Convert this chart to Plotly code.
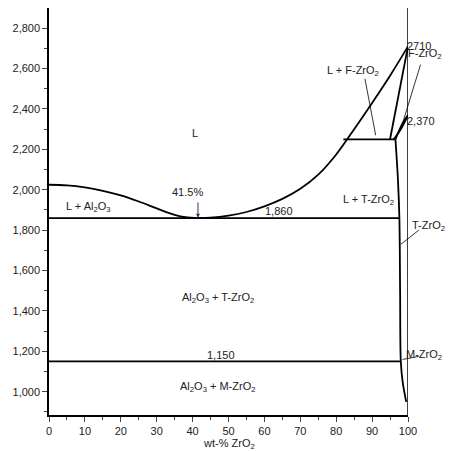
import plotly.graph_objects as go

x_ticks = list(range(0, 101, 10))
y_ticks = list(range(1000, 2801, 200))
y_labels = ["1,000","1,200","1,400","1,600","1,800","2,000","2,200","2,400","2,600","2,800"]

liq_al_x = [0, 5, 10, 15, 20, 25, 30, 35, 38, 41.5]
liq_al_y = [2025, 2022, 2012, 1995, 1972, 1942, 1908, 1876, 1864, 1860]
liq_zr_x = [41.5, 45, 50, 55, 60, 65, 70, 75, 80, 85, 90, 95, 100]
liq_zr_y = [1860, 1862, 1872, 1890, 1918, 1955, 2005, 2075, 2175, 2300, 2430, 2565, 2710]
sol_f_x = [95, 100]; sol_f_y = [2250, 2710]
lens1_x = [96, 98, 100]; lens1_y = [2250, 2300, 2370]
lens2_x = [96.5, 98.5, 100]; lens2_y = [2250, 2330, 2370]
t_x = [96.5, 97.2, 97.6, 97.8, 98.0, 98.5, 99.5]
t_y = [2250, 2050, 1860, 1500, 1150, 1050, 950]

fig = go.Figure()
def ln(x, y, w=1.8, shape="spline"):
    fig.add_trace(go.Scatter(x=x, y=y, mode="lines", line=dict(color="black", width=w, shape=shape),
                             showlegend=False, hoverinfo="skip"))
ln(liq_al_x, liq_al_y)
ln(liq_zr_x, liq_zr_y)
ln([0, 97.6], [1860, 1860], shape="linear")
ln([0, 98], [1150, 1150], shape="linear")
ln([82, 96.5], [2250, 2250], shape="linear")
ln(sol_f_x, sol_f_y, shape="linear")
ln(lens1_x, lens1_y)
ln(lens2_x, lens2_y)
ln(t_x, t_y)
ln([100, 100], [880, 2900], w=1.5, shape="linear")

# leader lines (paper x so they can leave the plot area)
leaders = [([88, 91], [2550, 2270]), ([98.5, 103.5], [2330, 2620]),
           ([98, 103], [1730, 1800]), ([98.5, 103], [1160, 1175])]
for xs, ys in leaders:
    fig.add_shape(type="line", xref="paper", yref="y", x0=xs[0]/100, x1=xs[1]/100, y0=ys[0], y1=ys[1],
                  line=dict(color="black", width=0.8))

anns = [
    (84.7, 2590, "L + F-ZrO<sub>2</sub>"), (40.6, 2280, "L"), (11, 1915, "L + Al<sub>2</sub>O<sub>3</sub>"),
    (38.7, 1990, "41.5%"), (64, 1895, "1,860"), (89, 1950, "L + T-ZrO<sub>2</sub>"),
    (47, 1465, "Al<sub>2</sub>O<sub>3</sub> + T-ZrO<sub>2</sub>"), (48, 1184, "1,150"),
    (47, 1022, "Al<sub>2</sub>O<sub>3</sub> + M-ZrO<sub>2</sub>"),
]
for x, y, t in anns:
    fig.add_annotation(x=x, y=y, text=t, showarrow=False, font=dict(size=11, color="#222"))
right = [(107, 2710, "2710"), (110, 2672, "F-ZrO<sub>2</sub>"), (108, 2342, "2,370"),
         (111, 1820, "T-ZrO<sub>2</sub>"), (110, 1184, "M-ZrO<sub>2</sub>")]
for x, y, t in right:
    fig.add_annotation(x=x/100, xref="paper", y=y, text=t, showarrow=False, font=dict(size=11, color="#222"))
fig.add_annotation(x=41.5, y=1862, ax=41.5, ay=1945, axref="x", ayref="y", text="", showarrow=True,
                   arrowhead=2, arrowsize=0.8, arrowwidth=1)
fig.add_annotation(x=0.01, xref="paper", y=2905, xanchor="left", yanchor="top", text="Temperature,<br>°C",
                   align="left", showarrow=False, font=dict(size=11, color="#222"))
fig.add_annotation(x=50, y=0, xref="x", yref="paper", yshift=-38, text="wt-% ZrO<sub>2</sub>", showarrow=False,
                   font=dict(size=11, color="#222"))

fig.update_layout(width=455, height=451, margin=dict(l=41, r=55, t=0, b=44),
                  plot_bgcolor="white", paper_bgcolor="white",
                  font=dict(family="Liberation Sans, Arial", size=11, color="#222"))
fig.update_xaxes(range=[0, 100], tickvals=x_ticks, showgrid=False, zeroline=False, showline=True,
                 linecolor="black", linewidth=1.5, ticks="outside", ticklen=5,
                 minor=dict(dtick=5, ticks="outside", ticklen=3))
fig.update_yaxes(range=[885, 2900], tickvals=y_ticks, ticktext=y_labels, showgrid=False, zeroline=False,
                 showline=True, linecolor="black", linewidth=1.5, ticks="outside", ticklen=5,
                 minor=dict(tickvals=list(range(900, 2900, 100)), ticks="outside", ticklen=3))
fig.write_html("out.html")
